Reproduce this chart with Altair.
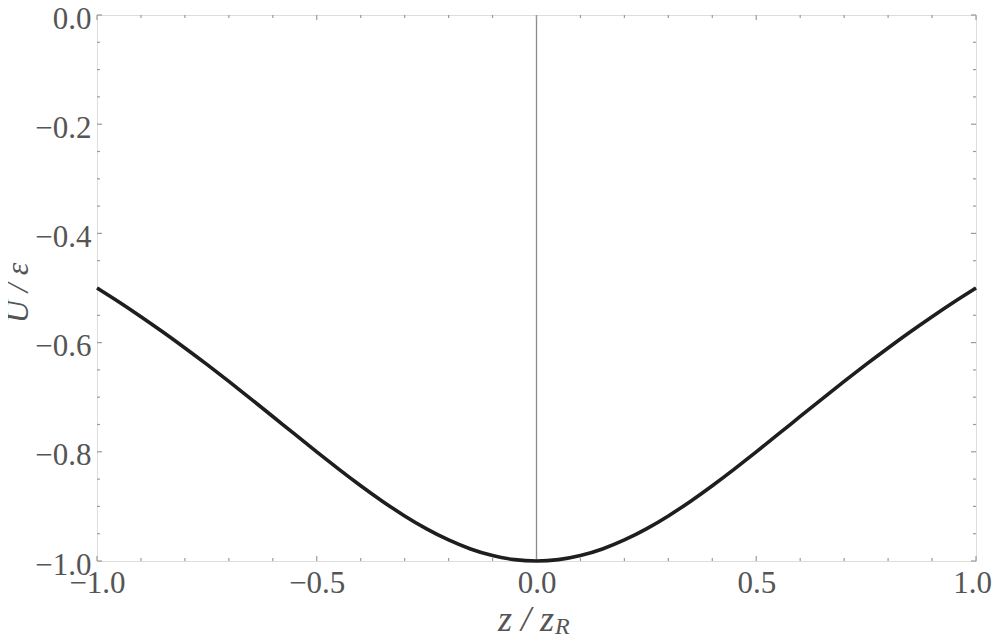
import altair as alt
import pandas as pd

# curve values
z_vals = [-1.0, -0.95, -0.9, -0.85, -0.8, -0.75, -0.7, -0.65, -0.6, -0.55, -0.5,
          -0.45, -0.4, -0.35, -0.3, -0.25, -0.2, -0.15, -0.1, -0.05, 0.0,
          0.05, 0.1, 0.15, 0.2, 0.25, 0.3, 0.35, 0.4, 0.45, 0.5,
          0.55, 0.6, 0.65, 0.7, 0.75, 0.8, 0.85, 0.9, 0.95, 1.0]
u_vals = [-0.5000, -0.5256, -0.5525, -0.5806, -0.6098, -0.6400, -0.6711, -0.7030, -0.7353,
          -0.7678, -0.8000, -0.8316, -0.8621, -0.8909, -0.9174, -0.9412, -0.9615, -0.9780,
          -0.9901, -0.9975, -1.0000, -0.9975, -0.9901, -0.9780, -0.9615, -0.9412, -0.9174,
          -0.8909, -0.8621, -0.8316, -0.8000, -0.7678, -0.7353, -0.7030, -0.6711, -0.6400,
          -0.6098, -0.5806, -0.5525, -0.5256, -0.5000]

x_major = [-1.0, -0.5, 0.0, 0.5, 1.0]
x_minor = [-0.9, -0.8, -0.7, -0.6, -0.4, -0.3, -0.2, -0.1, 0.1, 0.2, 0.3, 0.4, 0.6, 0.7, 0.8, 0.9]
y_major = [0.0, -0.2, -0.4, -0.6, -0.8, -1.0]
y_minor = [-0.05, -0.1, -0.15, -0.25, -0.3, -0.35, -0.45, -0.5, -0.55, -0.65, -0.7, -0.75,
           -0.85, -0.9, -0.95]

W, H = 879, 546
SERIF = "Liberation Serif"
FRAME = "#9a9a9a"
TEXT = "#555555"

df = pd.DataFrame({"z": z_vals, "u": u_vals})
xs = alt.Scale(domain=[-1, 1], nice=False, zero=False)
ys = alt.Scale(domain=[-1, 0], nice=False, zero=False)

curve = alt.Chart(df).mark_line(color="#1e1e1e", strokeWidth=3.6, interpolate="natural").encode(
    x=alt.X("z:Q", scale=xs, axis=alt.Axis(values=x_major, format=".1f", domain=False, ticks=False,
                                           grid=False, labelFont=SERIF, labelFontSize=31,
                                           labelColor=TEXT, labelPadding=7, title=None,
                                           labelOffset={"condition": {"test": "datum.value == 1",
                                                                      "value": -4},
                                                        "value": 0},
                                           labelFlush=False)),
    y=alt.Y("u:Q", scale=ys, axis=alt.Axis(values=y_major, format=".1f", domain=False, ticks=False,
                                           grid=False, labelFont=SERIF, labelFontSize=31,
                                           labelColor=TEXT, labelPadding=6, title=None,
                                           labelOffset=4, labelFlush=False)),
)

vline = alt.Chart(pd.DataFrame({"z": [0.0]})).mark_rule(color="#8a8a8a", strokeWidth=1.3).encode(
    x=alt.X("z:Q", scale=xs), y=alt.value(0), y2=alt.value(H))


def xticks(vals, length):
    d = pd.DataFrame({"z": vals})
    bot = alt.Chart(d).mark_rule(color=FRAME, strokeWidth=1.2).encode(
        x=alt.X("z:Q", scale=xs), y=alt.value(H), y2=alt.value(H - length))
    top = alt.Chart(d).mark_rule(color=FRAME, strokeWidth=1.2).encode(
        x=alt.X("z:Q", scale=xs), y=alt.value(0), y2=alt.value(length))
    return [bot, top]


def yticks(vals, length):
    d = pd.DataFrame({"u": vals})
    lft = alt.Chart(d).mark_rule(color=FRAME, strokeWidth=1.2).encode(
        y=alt.Y("u:Q", scale=ys), x=alt.value(0), x2=alt.value(length))
    rgt = alt.Chart(d).mark_rule(color=FRAME, strokeWidth=1.2).encode(
        y=alt.Y("u:Q", scale=ys), x=alt.value(W), x2=alt.value(W - length))
    return [lft, rgt]


ticks = xticks(x_major, 5) + xticks(x_minor, 3) + yticks(y_major, 5) + yticks(y_minor, 3)

title_df = pd.DataFrame({"t": [0]})
xtitle = alt.Chart(title_df).mark_text(font=SERIF, fontStyle="italic", fontSize=36, color=TEXT,
                                       align="right", baseline="alphabetic").encode(
    x=alt.value(457), y=alt.value(H + 70), text=alt.value("z / z"))
xsub = alt.Chart(title_df).mark_text(font=SERIF, fontStyle="italic", fontSize=24, color=TEXT,
                                     align="left", baseline="alphabetic").encode(
    x=alt.value(458), y=alt.value(H + 73), text=alt.value("R"))
ytitle = alt.Chart(title_df).mark_text(font=SERIF, fontStyle="italic", fontSize=32, color=TEXT,
                                       align="center", baseline="middle", angle=270).encode(
    x=alt.value(-79), y=alt.value(278), text=alt.value("U / ε"))

chart = alt.layer(vline, *ticks, curve, xtitle, xsub, ytitle).properties(
    width=W, height=H,
    autosize=alt.AutoSizeParams(type="none"),
    padding={"left": 89, "top": 7, "right": 16, "bottom": 74},
).configure_view(stroke=FRAME, strokeWidth=1.5).configure(background="white")

chart.save("out.html", embed_options={"renderer": "svg", "actions": False})
